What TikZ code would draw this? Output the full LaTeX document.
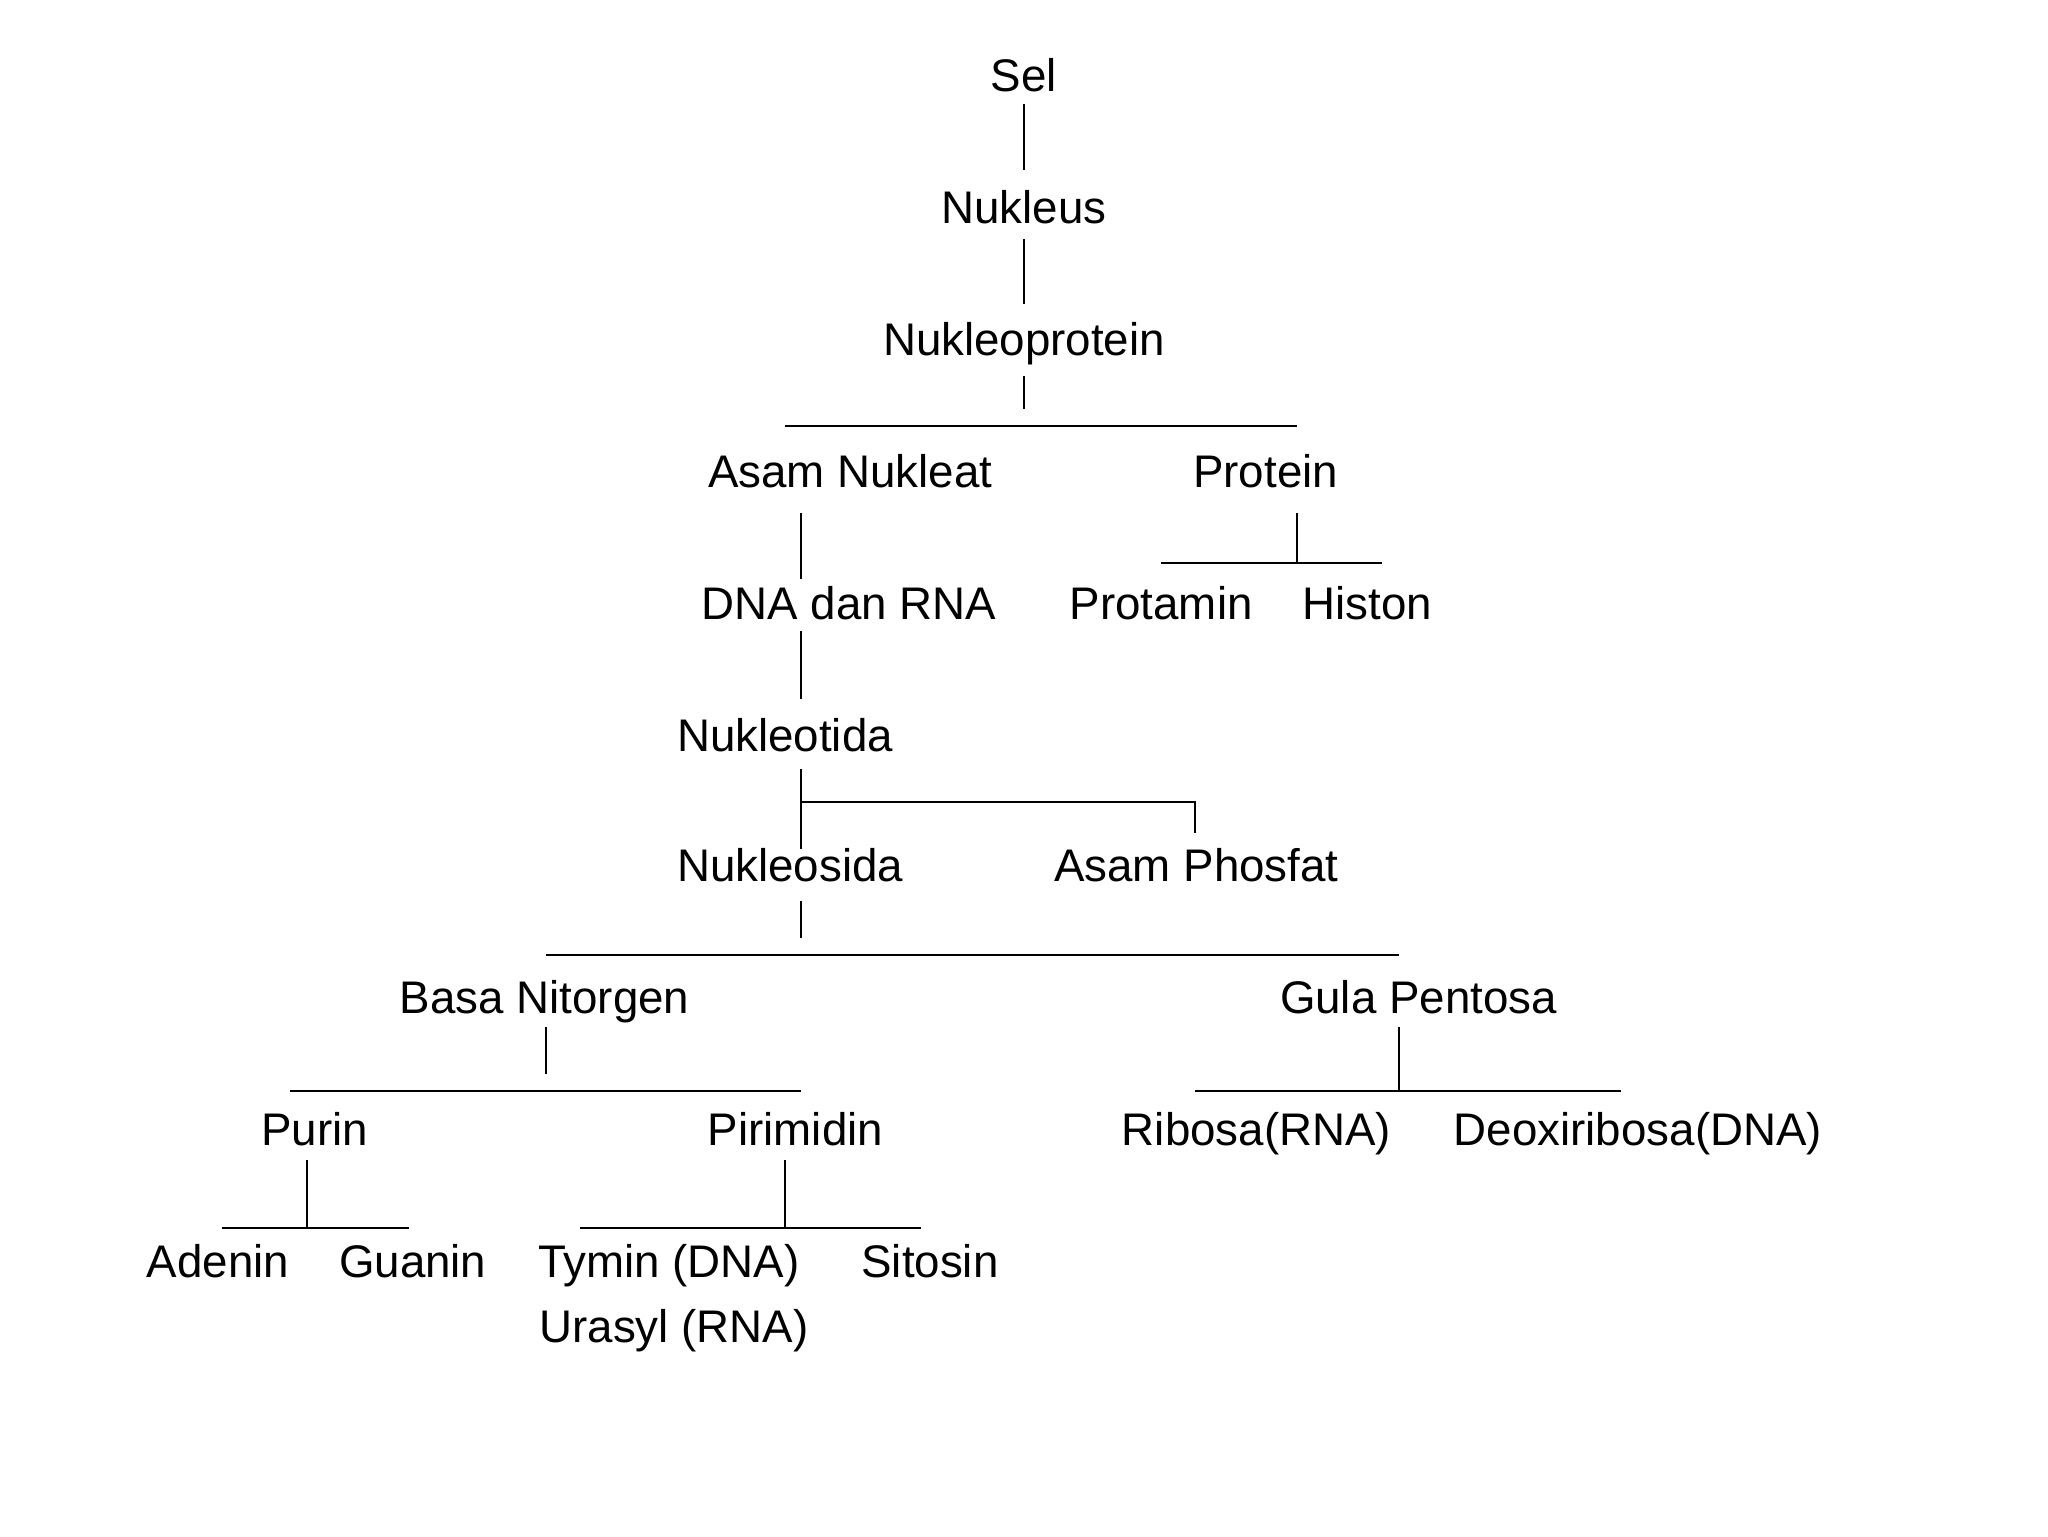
\documentclass[tikz,border=0pt]{standalone}
\usepackage{fontspec}
\setmainfont{Liberation Sans}
\usetikzlibrary{positioning, calc}
\tikzset{
  lbl/.style  = {font=\fontsize{13}{15}\selectfont, anchor=base, inner sep=0pt},
  link/.style = {line width=0.6pt, black},
}

\begin{document}
\begin{tikzpicture}[x=0.1306mm, y=-0.1306mm]
  \useasboundingbox (0,0) rectangle (1568,1176);

  % labels, by row
  \node[lbl] (sel)       at (784,70)   {Sel};
  \node[lbl] (nukleus)   at (784,171)  {Nukleus};
  \node[lbl] (nprotein)  at (784,272)  {Nukleoprotein};
  \node[lbl] (asam)      at (651,373)  {Asam Nukleat};
  \node[lbl] (protein)   at (969,373)  {Protein};
  \node[lbl] (dnarna)    at (650,474)  {DNA dan RNA};
  \node[lbl] (protamin)  at (889,474)  {Protamin};
  \node[lbl] (histon)    at (1047,474) {Histon};
  \node[lbl] (nkotida)   at (601,575)  {Nukleotida};
  \node[lbl] (nkosida)   at (605,675)  {Nukleosida};
  \node[lbl] (phosfat)   at (916,675)  {Asam Phosfat};
  \node[lbl] (basa)      at (417,776)  {Basa Nitorgen};
  \node[lbl] (gula)      at (1086,776) {Gula Pentosa};
  \node[lbl] (purin)     at (241,877)  {Purin};
  \node[lbl] (pirimidin) at (609,877)  {Pirimidin};
  \node[lbl] (ribosa)    at (962,877)  {Ribosa(RNA)};
  \node[lbl] (deoxi)     at (1254,877) {Deoxiribosa(DNA)};
  \node[lbl] (adenin)    at (167,978)  {Adenin};
  \node[lbl] (guanin)    at (316,978)  {Guanin};
  \node[lbl] (tymin)     at (512,978)  {Tymin (DNA)};
  \node[lbl] (urasyl)    at (516,1028) {Urasyl (RNA)};
  \node[lbl] (sitosin)   at (712,978)  {Sitosin};

  % horizontal bars
  \foreach \n/\l/\r/\y in {top/601/993/326, prot/889/1058/431, nsida/418/1071/731,
                           basa/222/613/835, gula/915/1241/835,
                           purin/170/313/940, pirim/444/705/940} {
    \coordinate (\n L) at (\l,\y);
    \coordinate (\n R) at (\r,\y);
    \draw[link] (\n L) -- (\n R);
  }

  % trunk
  \draw[link] ($(sel.base)+(0,10)$) -- ($(nukleus.base)+(0,-41)$);
  \draw[link] ($(nukleus.base)+(0,12)$) -- ($(nprotein.base)+(0,-39)$);
  \draw[link] ($(nprotein.base)+(0,16)$) -- ($(nprotein.base)+(0,41)$);

  % nucleic acid branch
  \draw[link] ($(asam.base)+(-38,20)$) -- ($(dnarna.base)+(-37,-31)$);
  \draw[link] ($(dnarna.base)+(-37,9)$) -- ($(nkotida.base)+(12,-40)$);
  \draw[link] ($(nkotida.base)+(12,14)$) -- ($(nkosida.base)+(8,-25)$);
  \draw[link] ($(nkotida.base)+(12,39)$) -| ($(phosfat.base)+(-1,-37)$);
  \draw[link] ($(nkosida.base)+(8,15)$) -- ($(nkosida.base)+(8,43)$);

  % protein branch
  \draw[link] ($(protein.base)+(24,20)$) -- ($(protein.base)+(24,58)$);

  % bases and sugars
  \draw[link] ($(basa.base)+(1,10)$) -- ($(basa.base)+(1,46)$);
  \draw[link] ($(gula.base)+(-15,10)$) -- ($(gula.base)+(-15,59)$);
  \draw[link] ($(purin.base)+(-6,11)$) -- ($(purin.base)+(-6,63)$);
  \draw[link] ($(pirimidin.base)+(-8,11)$) -- ($(pirimidin.base)+(-8,63)$);
\end{tikzpicture}
\end{document}
